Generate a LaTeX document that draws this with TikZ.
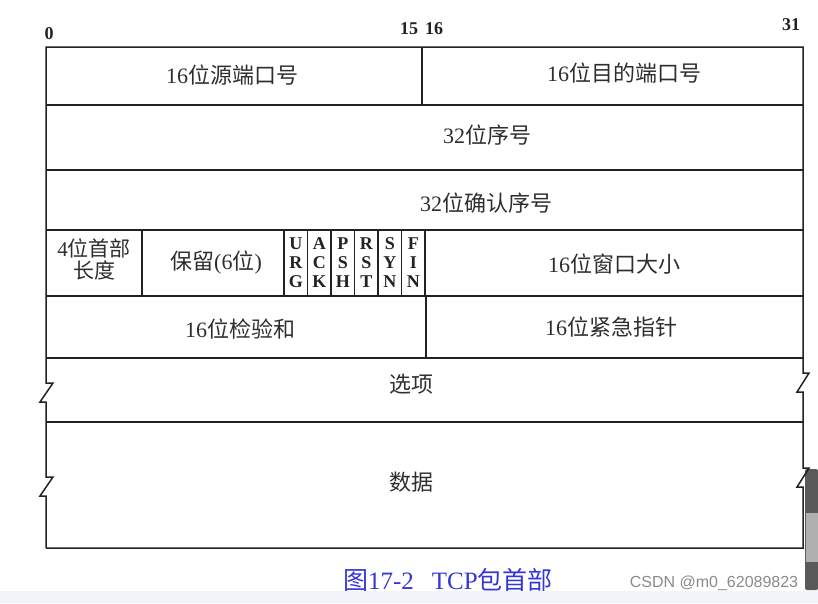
\documentclass[tikz,border=0pt]{standalone}
\usepackage{fontspec}
\setmainfont{Liberation Serif}
\newfontfamily\cjk{Noto Sans CJK SC}
\newfontfamily\wm{Liberation Sans}
\definecolor{ink}{HTML}{222222}
\definecolor{txt}{HTML}{2E2E2E}
\definecolor{capblue}{HTML}{3535D8}
\definecolor{stripbg}{HTML}{F1F4F9}
\definecolor{bardark}{HTML}{5A5A5A}
\definecolor{barlight}{HTML}{B0B0B0}
\definecolor{wmgray}{HTML}{8A8A8A}
\tikzset{
  frame/.style={draw=ink, line width=1.5pt, line join=miter},
  celltext/.style={text=txt, font=\fontsize{22}{24}\selectfont, inner sep=0pt},
  bitlabel/.style={text=ink, font=\bfseries\fontsize{18}{20}\selectfont, inner sep=0pt},
  flagtext/.style={text=ink, font=\bfseries\fontsize{18}{19}\selectfont, inner sep=0pt, align=center},
}
\begin{document}
\begin{tikzpicture}[x=1pt,y=-1pt]
\useasboundingbox (0,0) rectangle (818,603);
% screenshot artefacts
\fill[stripbg] (0,591) rectangle (818,603);
\fill[bardark, rounded corners=2pt] (805,469) rectangle (818,590);
\fill[barlight] (806,513) rectangle (818,562);
% outline
\draw[frame] (46,548) -- (46,496) -- (40,496) -- (53,477) -- (46,477) -- (46,402)
  -- (40,402) -- (53,383) -- (46,383) -- (46,47) -- (803,47) -- (803,373) -- (809,373) -- (797,392) -- (803,392) -- (803,468) -- (809,468) -- (797,487) -- (803,487) -- (803,548) -- (46,548);
% row lines
\foreach \y in {105,170,230,296,358,422}
  \draw[frame] (46,\y) -- (803,\y);
% vertical dividers
\draw[frame] (422,47) -- (422,105);
\draw[frame] (426,296) -- (426,358);
\draw[frame] (142,230) -- (142,296);
\foreach \x in {284,307.5,331,354.5,378,401.5,425}
  \draw[frame] (\x,230) -- (\x,296);
% bit labels
\node[bitlabel] (b0) at (49,34) {0};
\node[bitlabel] (b15) at (409,29) {15};
\node[bitlabel] (b16) at (434,29) {16};
\node[bitlabel] (b31) at (791,25) {31};
% cell texts
\node[celltext] (srcport) at (232,75) {16{\cjk 位源端口号}};
\node[celltext] (dstport) at (624,73) {16{\cjk 位目的端口号}};
\node[celltext] (seq) at (487,135) {32{\cjk 位序号}};
\node[celltext] (ack) at (486,203) {32{\cjk 位确认序号}};
\node[celltext, align=center, font=\fontsize{21}{22}\selectfont] (hlen) at (94,259) {4{\cjk 位首部}\\{\cjk 长度}};
\node[celltext] (resv) at (216,263) {{\cjk 保留}(6{\cjk 位})};
\node[flagtext] (urg) at (295.75,263) {U\\R\\G};
\node[flagtext] (fack) at (319.25,263) {A\\C\\K};
\node[flagtext] (psh) at (342.75,263) {P\\S\\H};
\node[flagtext] (rst) at (366.25,263) {R\\S\\T};
\node[flagtext] (syn) at (389.75,263) {S\\Y\\N};
\node[flagtext] (fin) at (413.25,263) {F\\I\\N};
\node[celltext] (win) at (614,264) {16{\cjk 位窗口大小}};
\node[celltext] (csum) at (240,329) {16{\cjk 位检验和}};
\node[celltext] (urgp) at (611,327) {16{\cjk 位紧急指针}};
\node[celltext] (opt) at (411,384) {{\cjk 选项}};
\node[celltext] (data) at (411,482) {{\cjk 数据}};
% caption
\node[text=capblue, font=\fontsize{25}{27}\selectfont, inner sep=0pt] (cap) at (448,580) {{\cjk 图}17-2\hspace{18pt}TCP{\cjk 包首部}};
\node[text=wmgray, font=\wm\fontsize{16}{18}\selectfont, inner sep=0pt] (mark) at (714,583) {CSDN @m0\_62089823};
\end{tikzpicture}
\end{document}
